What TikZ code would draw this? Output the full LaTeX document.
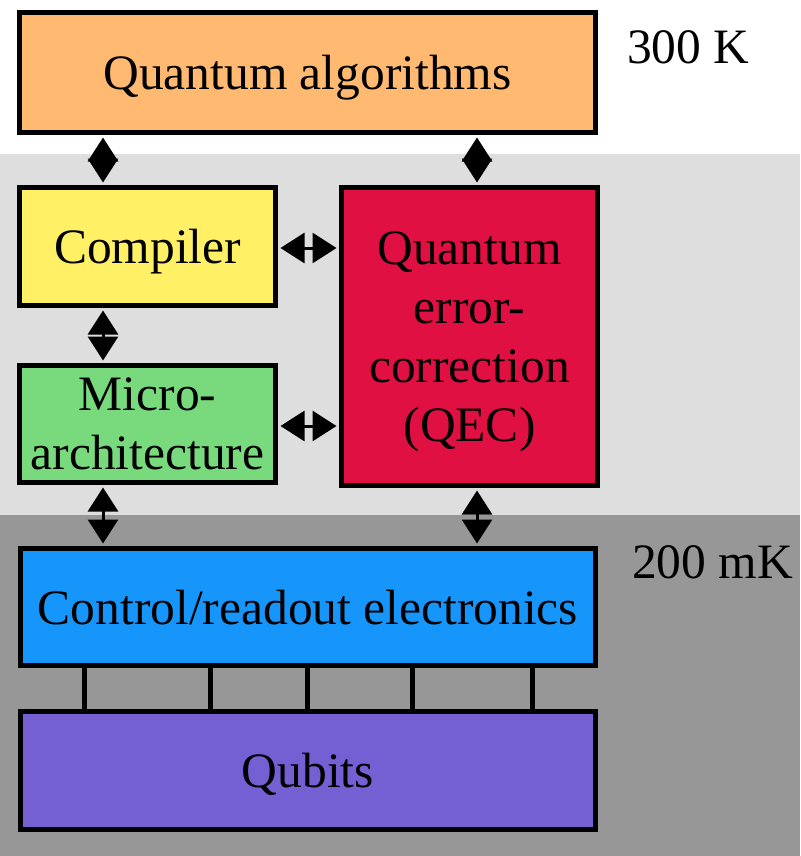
\documentclass[tikz,border=0pt]{standalone}
\usepackage{fontspec}
\setmainfont{Liberation Serif}
\usetikzlibrary{arrows.meta}
\definecolor{bglight}{RGB}{222,222,222}
\definecolor{bgdark}{RGB}{151,151,151}
\definecolor{corange}{RGB}{255,185,112}
\definecolor{cyellow}{RGB}{255,240,102}
\definecolor{cgreen}{RGB}{120,218,124}
\definecolor{cred}{RGB}{224,16,66}
\definecolor{cblue}{RGB}{22,150,250}
\definecolor{cpurple}{RGB}{116,96,210}
\tikzset{
  blk/.style={draw=black, line width=5pt, rectangle, inner sep=0pt, align=center,
    text depth=0pt, font=\fontsize{49.5}{59}\selectfont},
  dbl/.style={line width=3pt, shorten <=2.5pt, shorten >=2.5pt,
    {Triangle[length=24pt,width=30pt]}-{Triangle[length=24pt,width=30pt]}},
  wire/.style={line width=5pt},
  temp/.style={anchor=base west, inner sep=0pt, font=\fontsize{49.5}{59}\selectfont}
}
\begin{document}
\begin{tikzpicture}[x=1pt,y=-1pt]
\useasboundingbox (0,0) rectangle (800,856);
\fill[bglight] (0,154) rectangle (800,515);
\fill[bgdark] (0,515) rectangle (800,856);

\node[blk, fill=corange, minimum width=576pt, minimum height=120pt] (alg) at (307.5,72.5) {Quantum algorithms};
\node[blk, fill=cyellow, minimum width=256pt, minimum height=118pt] (comp) at (147.5,246.5) {Compiler};
\node[blk, fill=cgreen, minimum width=256pt, minimum height=117pt] (micro) at (147.5,424) {Micro-\\architecture};
\node[blk, fill=cred, minimum width=256pt, minimum height=298pt] (qec) at (469.5,336.5) {Quantum\\error-\\correction\\(QEC)};
\node[blk, fill=cblue, minimum width=575pt, minimum height=117pt] (ctrl) at (308,607) {Control/readout electronics};
\node[blk, fill=cpurple, minimum width=575pt, minimum height=118pt] (qub) at (308,770.5) {Qubits};

\node[temp] (t300) at (627,64) {300 K};
\node[temp] (t200) at (632,578) {200 mK};

\coordinate (xl) at (103,0);
\coordinate (xr) at (477,0);
\coordinate (y1) at (0,248);
\coordinate (y2) at (0,426);
\draw[dbl] (alg.south -| xl) -- (comp.north -| xl);
\draw[dbl] (comp.south -| xl) -- (micro.north -| xl);
\draw[dbl] (micro.south -| xl) -- (ctrl.north -| xl);
\draw[dbl] (alg.south -| xr) -- (qec.north -| xr);
\draw[dbl] (qec.south -| xr) -- (ctrl.north -| xr);
\draw[dbl] (comp.east |- y1) -- (qec.west |- y1);
\draw[dbl] (micro.east |- y2) -- (qec.west |- y2);

\foreach \i/\x in {1/84,2/210,3/307,4/412,5/532}{
  \coordinate (w\i) at (\x,0);
  \draw[wire] (ctrl.south -| w\i) -- (qub.north -| w\i);
}
\end{tikzpicture}
\end{document}
